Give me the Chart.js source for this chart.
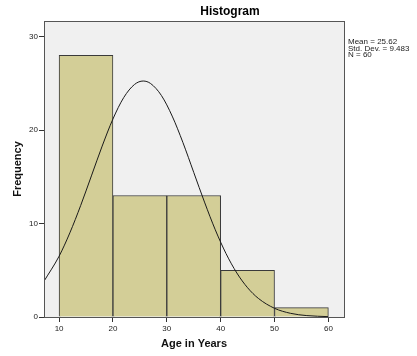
<!DOCTYPE html>
<html>
<head>
<meta charset="utf-8">
<script src="https://cdn.jsdelivr.net/npm/chart.js@4/dist/chart.umd.min.js"></script>
<style>
html,body{margin:0;padding:0;background:#fff;}
#wrap{width:417px;height:356px;}
</style>
</head>
<body>
<div id="wrap"><canvas id="c" width="417" height="356"></canvas></div>
<script>
// Data
const chartTitle = "Histogram";
const xAxisTitle = "Age in Years";
const yAxisTitle = "Frequency";
const binCenters = [15, 25, 35, 45, 55];
const frequencies = [28, 13, 13, 5, 1];
const curveX = [7.2, 10, 12, 14, 16, 18, 20, 22, 24, 25.62, 27, 29, 31, 33, 35, 37, 39, 41, 43, 45, 47, 50, 53, 56, 60];
const curveY = [3.83, 6.50, 9.00, 11.91, 15.09, 18.28, 21.18, 23.47, 24.87, 25.24, 24.97, 23.69, 21.49, 18.65, 15.47, 12.29, 9.33, 6.78, 4.71, 3.13, 1.99, 0.93, 0.39, 0.15, 0.04];
const xTicks = [10, 20, 30, 40, 50, 60];
const yTicks = [0, 10, 20, 30];
const statsLines = ["Mean = 25.62", "Std. Dev. = 9.483", "N = 60"];

const barData = binCenters.map((x, i) => ({x: x, y: frequencies[i]}));
const curveData = curveX.map((x, i) => ({x: x, y: curveY[i]}));

const frameBg = {
  id: 'frameBg',
  beforeDraw(chart) {
    const {ctx, chartArea: a} = chart;
    ctx.save();
    ctx.fillStyle = '#f0f0f0';
    ctx.fillRect(a.left, a.top, a.right - a.left, a.bottom - a.top);
    ctx.restore();
  },
  afterDraw(chart) {
    const {ctx, chartArea: a} = chart;
    ctx.save();
    ctx.strokeStyle = '#555';
    ctx.lineWidth = 1;
    ctx.strokeRect(Math.round(a.left) + 0.5, Math.round(a.top) + 0.5, Math.round(a.right - a.left), Math.round(a.bottom - a.top));
    // title
    ctx.fillStyle = '#000';
    ctx.font = 'bold 12px "Liberation Sans", Arial, sans-serif';
    ctx.textAlign = 'center';
    ctx.textBaseline = 'middle';
    ctx.fillText(chartTitle, 230, 12);
    // stats
    ctx.font = '8px "Liberation Sans", Arial, sans-serif';
    ctx.textAlign = 'left';
    ctx.textBaseline = 'alphabetic';
    ctx.fillStyle = '#222';
    statsLines.forEach((t, i) => ctx.fillText(t, a.right + 4, 44 + i * 6.7));
    ctx.restore();
  }
};

new Chart(document.getElementById('c'), {
  type: 'bar',
  data: {
    datasets: [
      {
        type: 'line',
        data: curveData,
        borderColor: '#1a1a1a',
        borderWidth: 1,
        pointRadius: 0,
        fill: false,
        cubicInterpolationMode: 'monotone',
        order: 0
      },
      {
        type: 'bar',
        data: barData,
        backgroundColor: '#d3ce97',
        borderColor: '#3a3a3a',
        borderWidth: 1,
        barPercentage: 1,
        categoryPercentage: 1,
        grouped: false,
        order: 1
      }
    ]
  },
  options: {
    responsive: false,
    animation: false,
    events: [],
    layout: {padding: {left: 0, right: 73, top: 21, bottom: 0}},
    plugins: {legend: {display: false}, tooltip: {enabled: false}, title: {display: false}},
    scales: {
      x: {
        type: 'linear',
        min: 7.2,
        max: 62.9,
        offset: false,
        afterBuildTicks: s => { s.ticks = xTicks.map(v => ({value: v})); },
        afterFit: s => { s.height = 39; },
        grid: {offset: false, drawOnChartArea: false, drawTicks: true, tickLength: 5, color: '#333'},
        border: {display: true, color: '#555'},
        ticks: {includeBounds: false, padding: 2, color: '#222', font: {size: 8, family: '"Liberation Sans", Arial, sans-serif'}, maxRotation: 0, autoSkip: false},
        title: {display: true, text: xAxisTitle, color: '#111', font: {size: 11, weight: 'bold', family: '"Liberation Sans", Arial, sans-serif'}, padding: {top: 0, bottom: 5}}
      },
      y: {
        type: 'linear',
        min: 0,
        max: 31.66,
        afterBuildTicks: s => { s.ticks = yTicks.map(v => ({value: v})); },
        afterFit: s => { s.width = 44; },
        grid: {drawOnChartArea: false, drawTicks: true, tickLength: 5, color: '#333'},
        border: {display: true, color: '#555'},
        ticks: {includeBounds: false, padding: 1, color: '#222', font: {size: 8, family: '"Liberation Sans", Arial, sans-serif'}, autoSkip: false},
        title: {display: true, text: yAxisTitle, color: '#111', font: {size: 11, weight: 'bold', family: '"Liberation Sans", Arial, sans-serif'}, padding: {top: 11, bottom: 0}}
      }
    }
  },
  plugins: [frameBg]
});
</script>
</body>
</html>
